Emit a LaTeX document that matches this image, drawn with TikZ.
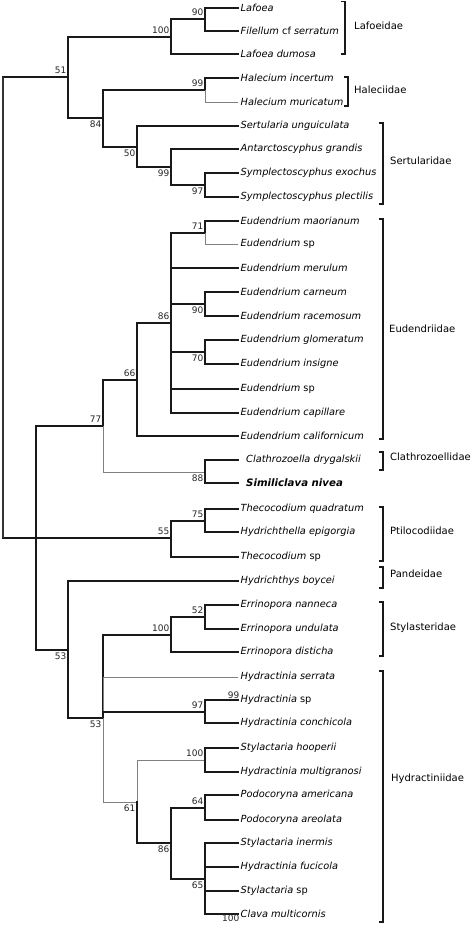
\documentclass[tikz,border=0pt]{standalone}
\usepackage{fontspec}
\setmainfont{DejaVu Sans}
\begin{document}
\begin{tikzpicture}[x=1pt,y=-1pt,
  br/.style={line width=1.2pt, black!90, line cap=rect},
  brg/.style={line width=0.9pt, black!50, line cap=rect},
  rootline/.style={line width=2.4pt, black!80},
  leaf/.style={anchor=west, inner xsep=2.5pt, inner ysep=1pt, font=\fontsize{9.8}{11}\selectfont\itshape},
  bsa/.style={anchor=south east, inner xsep=1.5pt, inner ysep=3pt, font=\fontsize{9}{10}\selectfont, text=black!85},
  bsb/.style={anchor=north east, inner xsep=1.5pt, inner ysep=3pt, font=\fontsize{9}{10}\selectfont, text=black!85},
  fam/.style={anchor=west, inner sep=0pt, font=\fontsize{10}{12}\selectfont},
  bracket/.style={line width=1.1pt, black!90}]
\fill[white] (0,0) rectangle (474,925);
\useasboundingbox (0,0) rectangle (474,925);

% ---- internal nodes
\coordinate (root) at (3,77);
\coordinate (n51) at (68,77);
\coordinate (n100a) at (171,37);
\coordinate (n90a) at (205,19);
\coordinate (n84) at (103,118);
\coordinate (n99a) at (205,90);
\coordinate (n50) at (137,147);
\coordinate (n99b) at (171,167);
\coordinate (n97a) at (205,185);
\coordinate (nB) at (36,538);
\coordinate (rootB) at (3,538);
\coordinate (n77) at (103,426);
\coordinate (n66) at (137,380);
\coordinate (n86a) at (171,323);
\coordinate (n71) at (205,233);
\coordinate (n90b) at (205,304);
\coordinate (n70) at (205,352);
\coordinate (n88) at (205,472);
\coordinate (n55) at (171,538);
\coordinate (n75) at (205,521);
\coordinate (n53a) at (68,650);
\coordinate (n53b) at (103,718);
\coordinate (n100b) at (171,635);
\coordinate (n52) at (205,617);
\coordinate (n97b) at (205,712);
\coordinate (n61) at (137,802);
\coordinate (n100c) at (205,760);
\coordinate (n86b) at (171,843);
\coordinate (n64) at (205,808);
\coordinate (n65) at (205,879);

% ---- leaves
\node[leaf] (t1) at (238,8) {Lafoea};
\node[leaf] (t2) at (238,31) {Filellum \textup{cf} serratum};
\node[leaf] (t3) at (238,54) {Lafoea dumosa};
\node[leaf] (t4) at (238,78) {Halecium incertum};
\node[leaf] (t5) at (238,102) {Halecium muricatum};
\node[leaf] (t6) at (238,126) {Sertularia unguiculata};
\node[leaf] (t7) at (238,149) {Antarctoscyphus grandis};
\node[leaf] (t8) at (238,173) {Symplectoscyphus exochus};
\node[leaf] (t9) at (238,197) {Symplectoscyphus plectilis};
\node[leaf] (t10) at (238,221) {Eudendrium maorianum};
\node[leaf] (t11) at (238,244) {Eudendrium \textup{sp}};
\node[leaf] (t12) at (238,268) {Eudendrium merulum};
\node[leaf] (t13) at (238,292) {Eudendrium carneum};
\node[leaf] (t14) at (238,316) {Eudendrium racemosum};
\node[leaf] (t15) at (238,340) {Eudendrium glomeratum};
\node[leaf] (t16) at (238,364) {Eudendrium insigne};
\node[leaf] (t17) at (238,389) {Eudendrium \textup{sp}};
\node[leaf] (t18) at (238,413) {Eudendrium capillare};
\node[leaf] (t19) at (238,436) {Eudendrium californicum};
\node[leaf, inner xsep=8pt] (t20) at (238,460) {Clathrozoella drygalskii};
\node[leaf, inner xsep=8pt, font=\fontsize{10.2}{12}\selectfont\bfseries\itshape] (t21) at (238,483) {Similiclava nivea};
\node[leaf] (t22) at (238,509) {Thecocodium quadratum};
\node[leaf] (t23) at (238,532) {Hydrichthella epigorgia};
\node[leaf] (t24) at (238,557) {Thecocodium \textup{sp}};
\node[leaf] (t25) at (238,581) {Hydrichthys boycei};
\node[leaf] (t26) at (238,605) {Errinopora nanneca};
\node[leaf] (t27) at (238,629) {Errinopora undulata};
\node[leaf] (t28) at (238,652) {Errinopora disticha};
\node[leaf] (t29) at (238,677) {Hydractinia serrata};
\node[leaf] (t30) at (238,700) {Hydractinia \textup{sp}};
\node[leaf] (t31) at (238,723) {Hydractinia conchicola};
\node[leaf] (t32) at (238,748) {Stylactaria hooperii};
\node[leaf] (t33) at (238,772) {Hydractinia multigranosi};
\node[leaf] (t34) at (238,795) {Podocoryna americana};
\node[leaf] (t35) at (238,820) {Podocoryna areolata};
\node[leaf] (t36) at (238,843) {Stylactaria inermis};
\node[leaf] (t37) at (238,867) {Hydractinia fucicola};
\node[leaf] (t38) at (238,891) {Stylactaria \textup{sp}};
\node[leaf] (t39) at (238,914) {Clava multicornis};

% ---- branches
\draw[br] (root) |- (n51);
\draw[br] (rootB) -- (nB);
\draw[br] (n51) |- (n100a);
\draw[br] (n51) |- (n84);
\draw[br] (n100a) |- (n90a);
\draw[br] (n100a) |- (t3.west);
\draw[br] (n90a) |- (t1.west);
\draw[br] (n90a) |- (t2.west);
\draw[br] (n84) |- (n99a);
\draw[br] (n84) |- (n50);
\draw[br] (n99a) |- (t4.west);
\draw[brg] (n99a) |- (t5.west);
\draw[br] (n50) |- (t6.west);
\draw[br] (n50) |- (n99b);
\draw[br] (n99b) |- (t7.west);
\draw[br] (n99b) |- (n97a);
\draw[br] (n97a) |- (t8.west);
\draw[br] (n97a) |- (t9.west);
\draw[br] (nB) |- (n77);
\draw[br] (nB) |- (n55);
\draw[br] (nB) |- (n53a);
\draw[br] (n77) |- (n66);
\draw[brg] (n77) |- (n88);
\draw[br] (n66) |- (n86a);
\draw[br] (n66) |- (t19.west);
\draw[br] (n86a) |- (n71);
\draw[br] (n86a) |- (t12.west);
\draw[br] (n86a) |- (n90b);
\draw[br] (n86a) |- (n70);
\draw[br] (n86a) |- (t17.west);
\draw[br] (n86a) |- (t18.west);
\draw[br] (n71) |- (t10.west);
\draw[brg] (n71) |- (t11.west);
\draw[br] (n90b) |- (t13.west);
\draw[br] (n90b) |- (t14.west);
\draw[br] (n70) |- (t15.west);
\draw[br] (n70) |- (t16.west);
\draw[br] (n88) |- (t20.west);
\draw[br] (n88) |- (t21.west);
\draw[br] (n55) |- (n75);
\draw[br] (n55) |- (t24.west);
\draw[br] (n75) |- (t22.west);
\draw[br] (n75) |- (t23.west);
\draw[br] (n53a) |- (t25.west);
\draw[br] (n53a) |- (n53b);
\draw[br] (n53b) |- (n100b);
\draw[brg] (n53b) |- (t29.west);
\draw[br] (n53b) |- (n97b);
\draw[brg] (n53b) |- (n61);
\draw[br] (n100b) |- (n52);
\draw[br] (n100b) |- (t28.west);
\draw[br] (n52) |- (t26.west);
\draw[br] (n52) |- (t27.west);
\draw[br] (n97b) |- (t30.west);
\draw[br] (n97b) |- (t31.west);
\draw[brg] (n61) |- (n100c);
\draw[br] (n61) |- (n86b);
\draw[br] (n100c) |- (t32.west);
\draw[br] (n100c) |- (t33.west);
\draw[br] (n86b) |- (n64);
\draw[br] (n86b) |- (n65);
\draw[br] (n64) |- (t34.west);
\draw[br] (n64) |- (t35.west);
\draw[br] (n65) |- (t36.west);
\draw[br] (n65) |- (t37.west);
\draw[br] (n65) |- (t38.west);
\draw[br] (n65) |- (t39.west);
\draw[rootline] (root) -- (rootB);

% ---- bootstrap values
\node[bsa] (b90a) at (n90a) {90};
\node[bsa] (b100a) at (n100a) {100};
\node[bsa] (b51) at (n51) {51};
\node[bsa] (b99a) at (n99a) {99};
\node[bsb] (b84) at (n84) {84};
\node[bsb] (b50) at (n50) {50};
\node[bsb] (b99b) at (n99b) {99};
\node[bsb] (b97a) at (n97a) {97};
\node[bsa] (b71) at (n71) {71};
\node[bsb] (b90b) at (n90b) {90};
\node[bsa] (b86a) at (n86a) {86};
\node[bsb] (b70) at (n70) {70};
\node[bsa] (b66) at (n66) {66};
\node[bsa] (b77) at (n77) {77};
\node[bsb] (b88) at (n88) {88};
\node[bsa] (b75) at (n75) {75};
\node[bsa] (b55) at (n55) {55};
\node[bsa] (b52) at (n52) {52};
\node[bsa] (b100b) at (n100b) {100};
\node[bsb] (b53a) at (n53a) {53};
\node[bsa] (b97b) at (n97b) {97};
\node[bsa, inner ysep=1pt] (b99c) at ([xshift=3pt]t30.west) {99};
\node[bsb] (b53b) at (n53b) {53};
\node[bsa] (b100c) at (n100c) {100};
\node[bsb] (b61) at (n61) {61};
\node[bsa] (b64) at (n64) {64};
\node[bsb] (b86b) at (n86b) {86};
\node[bsb] (b65) at (n65) {65};
\node[bsb, inner ysep=1pt] (b100d) at ([xshift=3pt]t39.west) {100};

% ---- family brackets
\coordinate (fa1) at (345,1.5);  \coordinate (fa2) at (345,54);
\coordinate (fb1) at (348,77);   \coordinate (fb2) at (348,106);
\coordinate (fc1) at (383,123);  \coordinate (fc2) at (383,204);
\coordinate (fd1) at (383,219);  \coordinate (fd2) at (383,439);
\coordinate (fe1) at (383,452);  \coordinate (fe2) at (383,470);
\coordinate (ff1) at (383,507);  \coordinate (ff2) at (383,561);
\coordinate (fg1) at (383,567);  \coordinate (fg2) at (383,588);
\coordinate (fh1) at (383,602);  \coordinate (fh2) at (383,656);
\coordinate (fi1) at (383,671);  \coordinate (fi2) at (383,922);
\foreach \f in {fa,fb,fc,fd,fe,ff,fg,fh,fi}{
  \draw[bracket] ([xshift=-4pt]\f1) -- (\f1) -- (\f2) -- ([xshift=-4pt]\f2);
}
\node[fam] (Fa) at (354,26) {Lafoeidae};
\node[fam] (Fb) at (354,90) {Haleciidae};
\node[fam] (Fc) at (390,161) {Sertularidae};
\node[fam] (Fd) at (389,329) {Eudendriidae};
\node[fam] (Fe) at (390,457) {Clathrozoellidae};
\node[fam] (Ff) at (390,531) {Ptilocodiidae};
\node[fam] (Fg) at (390,574) {Pandeidae};
\node[fam] (Fh) at (390,628) {Stylasteridae};
\node[fam] (Fi) at (391,779) {Hydractiniidae};
\end{tikzpicture}
\end{document}
